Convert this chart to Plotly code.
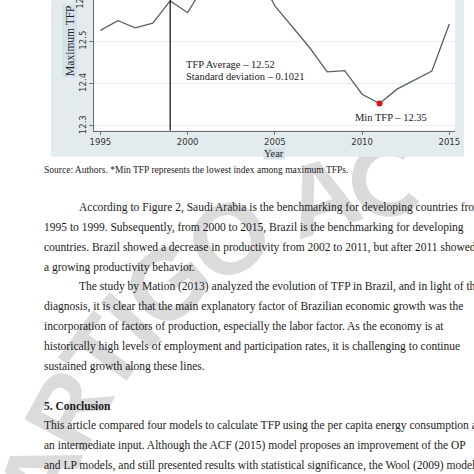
import math
import plotly.graph_objects as go

# data
years = list(range(1995, 2016))
max_tfp = [12.526, 12.549, 12.532, 12.543, 12.596, 12.568, 12.636, 12.682,
           12.672, 12.662, 12.584, 12.534, 12.485, 12.428, 12.431, 12.375,
           12.353, 12.387, 12.408, 12.430, 12.541]
avg_year = 1999
min_year = 2011
min_tfp = 12.353
x_ticks = [1995, 2000, 2005, 2010, 2015]
y_ticks = [12.3, 12.4, 12.5]

avg_label = "TFP Average – 12.52"
sd_label = "Standard deviation – 0.1021"
min_label = "Min TFP – 12.35"
source_note = "Source: Authors. *Min TFP represents the lowest index among maximum TFPs."

body_lines = [
    "According to Figure 2, Saudi Arabia is the benchmarking for developing countries from",
    "1995 to 1999. Subsequently, from 2000 to 2015, Brazil is the benchmarking for developing",
    "countries. Brazil showed a decrease in productivity from 2002 to 2011, but after 2011 showed",
    "a growing productivity behavior.",
    "The study by Mation (2013) analyzed the evolution of TFP in Brazil, and in light of this",
    "diagnosis, it is clear that the main explanatory factor of Brazilian economic growth was the",
    "incorporation of factors of production, especially the labor factor. As the economy is at",
    "historically high levels of employment and participation rates, it is challenging to continue",
    "sustained growth along these lines.",
    "",
    "<b>5. Conclusion</b>",
    "This article compared four models to calculate TFP using the per capita energy consumption as",
    "an intermediate input. Although the ACF (2015) model proposes an improvement of the OP",
    "and LP models, and still presented results with statistical significance, the Wool (2009) model",
]
indented = [0, 4]
watermark = "ARTIGO A"

W = H = 474


def fx(px):
    return px / W


def fy(py):
    return 1 - py / H


OUTER = "#e3ebef"
TITLE_BOX = "#d6e2e9"
SERIF = "Liberation Serif"

fig = go.Figure()
fig.add_trace(go.Scatter(x=years, y=max_tfp, mode="lines",
                         line=dict(color="#56616d", width=1.3),
                         hoverinfo="skip"))
fig.add_trace(go.Scatter(x=[min_year], y=[min_tfp], mode="markers",
                         marker=dict(color="#e01010", size=6),
                         hoverinfo="skip"))

anns = []

# watermark letters along an arc (pixel space)
cx, cy, rad, size = 463, 627, 452, 100
adv = {"A": .722, "R": .722, "T": .611, "I": .278, "G": .778, "O": .778,
       " ": .278, "C": .722}
phi = math.radians(-160.9)
prev = None
for ch in watermark:
    if prev is not None:
        phi += (adv[prev] / 2 + adv[ch] / 2) * size / rad
    prev = ch
    if ch == " ":
        continue
    px = cx + rad * math.cos(phi)
    py = cy + rad * math.sin(phi)
    anns.append(dict(x=fx(px), y=fy(py), xref="paper", yref="paper",
                     xanchor="center", yanchor="middle",
                     text="<b>" + ch + "</b>", showarrow=False,
                     textangle=math.degrees(phi) + 90,
                     font=dict(family="Liberation Sans", size=size,
                               color="rgba(150,150,150,0.34)")))

# C of the watermark, drawn under the chart panel
phi += (adv["A"] / 2 + adv["C"] / 2) * size / rad
ccx = cx + rad * math.cos(phi)
ccy = cy + rad * math.sin(phi)
open_dir = phi + math.pi / 2
pts = []
for k in range(41):
    a = open_dir + math.radians(45 + k * 270 / 40)
    pts.append((ccx + 31 * math.cos(a), ccy + 31 * math.sin(a)))
c_path = "M " + " L ".join(f"{fx(p[0]):.4f},{fy(p[1]):.4f}" for p in pts)

shapes = [
    dict(type="path", path=c_path, xref="paper", yref="paper", layer="below",
         line=dict(color="#dadada", width=14)),
    dict(type="rect", xref="paper", yref="paper", layer="below",
         x0=fx(48), x1=fx(469), y0=fy(158), y1=1.01,
         fillcolor=OUTER, line=dict(width=0)),
    dict(type="rect", xref="paper", yref="paper", layer="below",
         x0=fx(91.7), x1=fx(460), y0=fy(131.7), y1=1.01,
         fillcolor="white", line=dict(width=0)),
    dict(type="line", xref="x", yref="y domain", x0=avg_year, x1=avg_year,
         y0=0, y1=1, line=dict(color="#1e1e1e", width=1.3)),
]

# chart texts
for txt, yv in [(avg_label, 12.445), (sd_label, 12.417)]:
    anns.append(dict(x=1999.8, y=yv, xref="x", yref="y", text=txt,
                     showarrow=False, xanchor="left", yanchor="middle",
                     font=dict(family=SERIF, size=10.5, color="#222")))
anns.append(dict(x=2009.45, y=12.321, xref="x", yref="y", text=min_label,
                 showarrow=False, xanchor="left", yanchor="middle",
                 font=dict(family=SERIF, size=10.5, color="#222")))
anns.append(dict(x=fx(66.5), y=fy(41), xref="paper", yref="paper",
                 xanchor="center", yanchor="middle",
                 text="Maximum TFP", textangle=-90, showarrow=False,
                 bgcolor=TITLE_BOX, borderpad=1,
                 font=dict(family=SERIF, size=11.5, color="#222")))
anns.append(dict(x=fx(275), y=fy(154.5), xref="paper", yref="paper",
                 xanchor="center", yanchor="middle",
                 text="Year", showarrow=False, bgcolor=TITLE_BOX, borderpad=0,
                 font=dict(family=SERIF, size=10.5, color="#222")))
anns.append(dict(x=fx(78), y=fy(-0.7), xref="paper", yref="paper",
                 xanchor="center", yanchor="middle",
                 text="12.6", textangle=-90, showarrow=False,
                 font=dict(family="DejaVu Sans", size=8.5, color="#333")))
anns.append(dict(x=fx(39), y=fy(171), xref="paper", yref="paper",
                 xanchor="left", yanchor="middle",
                 text=source_note, showarrow=False,
                 font=dict(family=SERIF, size=9.5, color="#222")))

for i, line in enumerate(body_lines):
    if not line:
        continue
    anns.append(dict(x=fx(74 if i in indented else 39), y=fy(209.3 + 20 * i),
                     xref="paper", yref="paper", text=line, showarrow=False,
                     xanchor="left", yanchor="middle",
                     font=dict(family=SERIF, size=11.5, color="#1c1c1c")))

fig.update_layout(
    width=W, height=H,
    margin=dict(l=0, r=0, t=0, b=0),
    paper_bgcolor="white", plot_bgcolor="rgba(0,0,0,0)",
    showlegend=False,
    shapes=shapes,
    annotations=anns,
    xaxis=dict(domain=[fx(91.7), fx(460)], range=[1994.63, 2015.34],
               tickvals=x_ticks, ticks="outside", ticklen=3, tickcolor="#777",
               showline=True, linecolor="#6a6a6a", linewidth=1,
               showgrid=False, zeroline=False,
               tickfont=dict(family="DejaVu Sans", size=8.5, color="#333")),
    yaxis=dict(domain=[fy(131.7), 1], range=[12.289, 12.598],
               tickvals=y_ticks, ticktext=[f"{v:.1f}" for v in y_ticks],
               tickangle=-90, ticks="outside", ticklen=4, tickcolor="#777",
               showline=True, linecolor="#6a6a6a", linewidth=1,
               showgrid=True, gridcolor="#e9f0f3", gridwidth=1, zeroline=False,
               tickfont=dict(family="DejaVu Sans", size=8.5, color="#333")),
)

fig.write_html("out.html", config={"displayModeBar": False},
               post_script="document.body.style.margin='0';"
                           "document.body.style.overflow='hidden';")
